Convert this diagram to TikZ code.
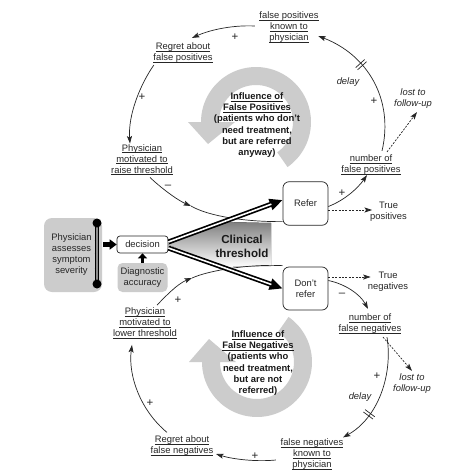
\documentclass[tikz,border=0pt]{standalone}
\usepackage{fontspec}
\setmainfont{Liberation Sans}
\usetikzlibrary{arrows.meta,calc}
\definecolor{ink}{gray}{0.15}
\definecolor{shade}{gray}{0.80}
\newcommand{\ulx}[1]{\setbox0=\hbox{#1}\rlap{\rule[-1.7pt]{\wd0}{0.45pt}}\box0}
\newcommand{\dmark}{\rule[-6pt]{0.7pt}{12pt}\hspace{2.2pt}\rule[-6pt]{0.7pt}{12pt}}
\tikzset{
  lbl/.style={font=\fontsize{9.4}{11}\selectfont, text=ink, align=center, inner sep=0.5pt},
  itl/.style={lbl, font=\fontsize{9.4}{11}\selectfont\itshape},
  ringtxt/.style={lbl, font=\fontsize{9.4}{11.2}\selectfont\bfseries, text=black!90},
  thrtxt/.style={lbl, font=\fontsize{11.6}{14}\selectfont\bfseries, text=black!90},
  sign/.style={font=\fontsize{11.5}{12}\selectfont, text=ink, inner sep=0pt},
  link/.style={draw=ink, line width=0.7pt, -{Stealth[length=7.5pt,width=5pt,inset=1.6pt]}},
  plain/.style={draw=ink, line width=0.7pt},
  dlink/.style={draw=ink, line width=0.7pt, dash pattern=on 2pt off 1.4pt, -{Stealth[length=7.5pt,width=5pt,inset=1.6pt]}},
  wbox/.style={lbl, draw=ink, line width=0.7pt, fill=white},
  gbox/.style={lbl, fill=shade},
  ring/.style={fill=shade, draw=none},
  fatarrow/.style={draw=black, line width=4.5pt, -{Triangle[length=7pt,width=10pt]}},
  fatup/.style={draw=black, line width=3.5pt, -{Triangle[length=5pt,width=9pt]}},
  dblouter/.style={draw=black, line width=5pt, -{Triangle[length=13pt,width=11pt]}},
  dblinner/.style={draw=white, line width=1.6pt, shorten >=12pt},
  delaymark/.style={sloped, inner sep=0pt, text=ink, anchor=center},
}
\begin{document}
\begin{tikzpicture}[x=1pt,y=-1pt]
\useasboundingbox (0,0) rectangle (474,474);
\fill[white] (0,0) rectangle (474,474);

% feedback rings
\fill[ring] plot[domain=-55:180, samples=60] ({256+55*cos(\x)},{122-55*sin(\x)})
  -- (188,122) -- (208,144) -- (235,122)
  -- plot[domain=180:-55, samples=60] ({256+37*cos(\x)},{122-37*sin(\x)}) -- cycle;
\fill[ring] plot[domain=55:-180, samples=60] ({257+55*cos(\x)},{362-55*sin(\x)})
  -- (189,362) -- (209,339) -- (236,362)
  -- plot[domain=-180:55, samples=60] ({257+37*cos(\x)},{362-37*sin(\x)}) -- cycle;

\node[ringtxt] (infp) at (257,125) {\ulx{Influence of}\\\ulx{False Positives}\\(patients who don't\\need treatment,\\but are referred\\anyway)};
\node[ringtxt] (infn) at (258,363) {\ulx{Influence of}\\\ulx{False Negatives}\\(patients who\\need treatment,\\but are not\\referred)};

% boxes
\node[wbox, rounded corners=6pt, minimum width=45pt, minimum height=43.5pt] (refer) at (305.5,203.5) {Refer};
\node[wbox, rounded corners=6pt, minimum width=45pt, minimum height=43pt] (dontrefer) at (305.5,288.5) {Don't\\refer};
\node[wbox, rounded corners=3pt, minimum width=51pt, minimum height=17pt] (decision) at (142.5,244.5) {decision};
\node[gbox, rounded corners=5pt, minimum width=50pt, minimum height=29pt] (diagacc) at (142.5,277.5) {Diagnostic\\accuracy};
\node[gbox, rounded corners=8pt, minimum width=58pt, minimum height=74pt, text width=56pt, align=center] (physassess) at (73,255) {\hspace*{-3pt}Physician\\\hspace*{-3pt}assesses\\\hspace*{-3pt}symptom\\\hspace*{-3pt}severity};

% clinical threshold region
\fill[shade] (decision.east) -- (222,222) -- (271,223) -- (271,266) -- (220,267) -- cycle;
\node[thrtxt] (thr) at (242,246) {Clinical\\threshold};

% variables
\node[lbl] (fpk) at (289,27) {\ulx{false positives}\\\ulx{known to}\\\ulx{physician}};
\node[lbl] (regfp) at (183,52.5) {\ulx{Regret about}\\\ulx{false positives}};
\node[lbl] (physraise) at (142,159.5) {\ulx{Physician}\\\ulx{motivated to}\\\ulx{raise threshold}};
\node[lbl] (numfp) at (371,164.5) {\ulx{number of}\\\ulx{false positives}};
\node[itl] (lostfp) at (413,99) {lost to\\follow-up};
\node[lbl] (truep) at (388.5,211.5) {True\\positives};
\node[lbl] (truen) at (388,281.5) {True\\negatives};
\node[lbl] (numfn) at (370,323.5) {\ulx{number of}\\\ulx{false negatives}};
\node[itl] (lostfn) at (412,383.5) {lost to\\follow-up};
\node[lbl] (fnk) at (312,454.5) {\ulx{false negatives}\\\ulx{known to}\\\ulx{physician}};
\node[lbl] (regfn) at (182,446) {\ulx{Regret about}\\\ulx{false negatives}};
\node[lbl] (physlower) at (145,323) {\ulx{Physician}\\\ulx{motivated to}\\\ulx{lower threshold}};
\node[itl] (dfp) at (348,82) {delay};
\node[itl] (dfn) at (360,397) {delay};

% bar at the assessment box
\draw[black, line width=3.4pt] (97,223) -- (97,284);
\draw[black!45, line width=1.6pt] (97,225) -- (97,282);
\foreach \yy in {240,253,268} \draw[black, line width=0.5pt] (94.5,\yy) -- (96,\yy);
\fill[black] (97,223) circle[radius=4.5pt];
\fill[black] (97,284) circle[radius=4.5pt];

% thick arrows
\draw[fatarrow] ($(physassess.east)+(1,-10.5)$) -- (decision.west);
\draw[fatup] (diagacc.north) -- (decision.south);

% threshold curves
\coordinate (m1) at (191,206);
\coordinate (m2) at (192,278);
\draw[link] ($(physraise.south)+(8,2)$) .. controls (160,187) and (177,200) .. (m1);
\draw[plain] (m1) .. controls (208,216) and (245,222) .. ($(refer.south west)+(0,-4)$);
\draw[link] ($(physlower.north)+(12,-2)$) .. controls (165,297) and (177,284) .. (m2);
\draw[plain] (m2) .. controls (210,270) and (250,264) .. ($(dontrefer.north west)+(0,-1)$);

% double arrows
\draw[dblouter] ($(decision.east)+(0,-2.5)$) -- ($(refer.west)+(0,-3.5)$);
\draw[dblouter] ($(decision.east)+(0,3.5)$) -- ($(dontrefer.west)+(0,0)$);
\draw[dblinner] ($(decision.east)+(0,-2.5)$) -- ($(refer.west)+(0,-3.5)$);
\draw[dblinner] ($(decision.east)+(0,3.5)$) -- ($(dontrefer.west)+(0,0)$);

% top loop
\draw[link] ($(fpk.west)+(-4,-1)$) .. controls (235,25) and (212,29) .. ($(regfp.north)+(9,-4)$);
\draw[link] ($(regfp.south west)+(1,2)$) .. controls (140,85) and (128,115) .. ($(physraise.north)+(-12,0)$);
\draw[link] ($(refer.east)+(0,3)$) .. controls (345,200) and (358,188) .. ($(numfp.south)+(-4,0)$);
\draw[link] ($(numfp.north)+(11,-3)$) .. controls (394,100) and (368,55) .. ($(fpk.east)+(-1,9)$) node[delaymark, pos=0.65] (dm1) {\dmark};
\draw[dlink] ($(numfp.north)+(16,-2)$) -- ($(lostfp.south)+(4,2.5)$);
\draw[dlink] ($(refer.east)+(0,6.5)$) -- ($(truep.west)+(2.5,-1.5)$);

% bottom loop
\draw[dlink] ($(dontrefer.east)+(0,-11.5)$) -- ($(truen.west)+(3.5,-4.5)$);
\draw[link] ($(dontrefer.east)+(0,-8)$) .. controls (345,284) and (360,294) .. ($(numfn.north)+(-2,-4)$);
\draw[link] ($(numfn.south)+(17,3)$) .. controls (393,375) and (378,418) .. ($(fnk.north)+(31,-1)$) node[delaymark, pos=0.7] (dm2) {\dmark};
\draw[dlink] ($(numfn.south)+(13,3)$) -- ($(lostfn.north)+(0,-2)$);
\draw[link] ($(fnk.west)+(-4,5.5)$) .. controls (255,462) and (232,459) .. ($(regfn.east)+(2,8)$);
\draw[link] ($(regfn.north)+(-15,-3)$) .. controls (140,410) and (128,375) .. ($(physlower.south)+(-13,6)$);

% polarity signs
\node[sign] (s1) at (235,37) {+};
\node[sign] (s2) at (142,97) {+};
\node[sign] (s3) at (168,187) {–};
\node[sign] (s4) at (342,193) {+};
\node[sign] (s5) at (374,101) {+};
\node[sign] (s6) at (342,295) {–};
\node[sign] (s7) at (377,376) {+};
\node[sign] (s8) at (255,456) {+};
\node[sign] (s9) at (150,403) {+};
\node[sign] (s10) at (178,300) {+};
\end{tikzpicture}
\end{document}
